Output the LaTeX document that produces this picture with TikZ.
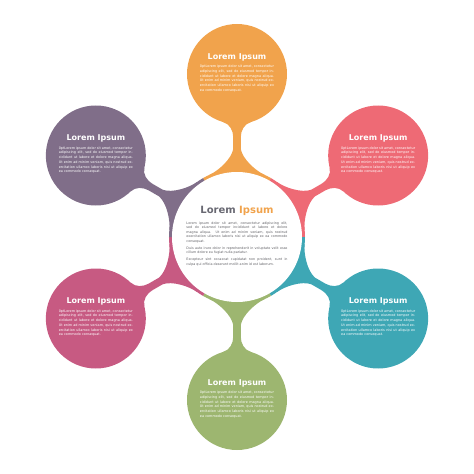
\documentclass[tikz,border=0pt]{standalone}
\usepackage{fontspec}
\setmainfont{DejaVu Sans}
\usetikzlibrary{positioning}

\definecolor{petalorange}{RGB}{241,163,76}
\definecolor{petalcoral}{RGB}{238,106,117}
\definecolor{petalteal}{RGB}{62,167,181}
\definecolor{petalgreen}{RGB}{157,182,112}
\definecolor{petalrose}{RGB}{199,90,130}
\definecolor{petalplum}{RGB}{128,110,137}
\definecolor{hubgray}{RGB}{105,105,115}
\definecolor{bodygray}{RGB}{95,95,100}

\tikzset{
	petal/.style={circle,minimum size=100pt,inner sep=0pt},
	petaltitle/.style={font=\bfseries\fontsize{8}{9}\selectfont,text=white,inner sep=0pt},
	petalbody/.style={font=\fontsize{3.4}{4.7}\selectfont\hyphenpenalty=10000\tolerance=9999\emergencystretch=8pt,text=white,text width=74pt,align=justify,inner sep=0pt},
	hubtitle/.style={font=\bfseries\fontsize{10}{11}\selectfont,inner sep=0pt},
	hubbody/.style={font=\fontsize{3.3}{4.6}\selectfont,text=bodygray,text width=101pt,align=justify,inner sep=0pt}
}

\newcommand{\loremtext}{Lorem ipsum dolor sit amet, consectetur adipiscing elit, sed do eiusmod tempor incididunt ut labore et dolore magna aliqua. Ut enim ad minim veniam, quis nostrud exercitation ullamco laboris nisi ut aliquip ex ea commodo consequat.}

\begin{document}
\begin{tikzpicture}[x=1pt,y=1pt]
	\useasboundingbox (-237,-237) rectangle (237,237);
	% necks, petals and ring pieces
	\foreach \ang/\col/\nm in {90/petalorange/top,30/petalcoral/upright,-30/petalteal/lowright,-90/petalgreen/bottom,-150/petalrose/lowleft,150/petalplum/upleft}{
		\fill[\col,rotate=\ang] (62.1,27.7) .. controls (66.2,18.6) and (78,5.5) .. (88,3.8) -- (100,3.8) .. controls (106,3.8) and (113,7.1) .. (114.9,13.8) -- (114.9,-13.8) .. controls (113,-7.1) and (106,-3.8) .. (100,-3.8) -- (88,-3.8) .. controls (78,-5.5) and (66.2,-18.6) .. (62.1,-27.7) -- cycle;
		\node[petal,fill=\col] (\nm) at (\ang:163) {};
		\fill[\col] (0,0) -- (\ang-30:68) arc[start angle=\ang-30,end angle=\ang+30,radius=68] -- cycle;
		\node[petaltitle] (\nm-title) at ([yshift=17pt]\nm.center) {Lorem Ipsum};
		\node[petalbody,below=4pt of \nm-title] (\nm-text) {\loremtext};
	}
	% the hub
	\node[circle,fill=white,minimum size=130pt,inner sep=0pt] (hub) at (0,0) {};
	\node[hubtitle] (hub-title) at ([yshift=26pt]hub.center) {\textcolor{hubgray}{Lorem} \textcolor{petalorange}{Ipsum}};
	\node[hubbody,below=5.5pt of hub-title] (hub-text) {Lorem ipsum dolor sit amet, consectetur adipiscing elit,\linebreak
		sed do eiusmod tempor incididunt ut labore et dolore\linebreak
		magna aliqua. Ut enim ad minim veniam, quis nostrud\linebreak
		exercitation ullamco laboris nisi ut aliquip ex ea commodo\linebreak
		consequat.\par\vspace{2pt}
		Duis aute irure dolor in reprehenderit in voluptate velit esse\linebreak
		cillum dolore eu fugiat nulla pariatur.\par\vspace{2.5pt}
		Excepteur sint occaecat cupidatat non proident, sunt in\linebreak
		culpa qui officia deserunt mollit anim id est laborum.};
\end{tikzpicture}
\end{document}
